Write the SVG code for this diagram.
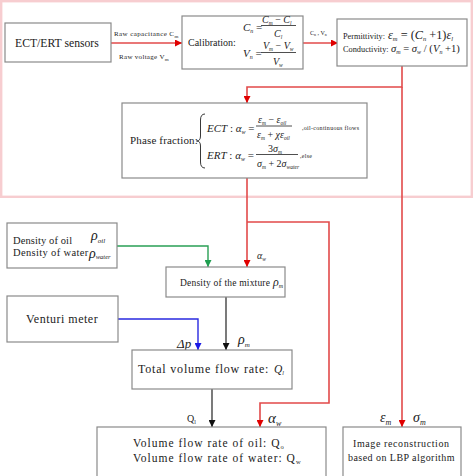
<svg xmlns="http://www.w3.org/2000/svg" width="474" height="476" viewBox="0 0 474 476">
<defs>
<style>
.box{fill:#fff;stroke:#8a8a8a;stroke-width:1.2}
.s{font-family:"Liberation Serif",serif;fill:#222;font-style:normal}
.m{font-family:"Liberation Serif",serif;font-style:italic;fill:#222}
.red{stroke:#e24a4a;stroke-width:1.6;fill:none}
.blk{stroke:#222;stroke-width:1.2;fill:none}
.blu{stroke:#2a2ae0;stroke-width:1.4;fill:none}
.grn{stroke:#2aa055;stroke-width:1.4;fill:none}
.bar{stroke:#222;stroke-width:0.8}
</style>
<marker id="ar" viewBox="0 0 10 10" refX="10" refY="5" markerWidth="7" markerHeight="7" markerUnits="userSpaceOnUse" orient="auto"><path d="M0,0 L10,5 L0,10 z" fill="#e00000"/></marker>
<marker id="ab" viewBox="0 0 10 10" refX="10" refY="5" markerWidth="7" markerHeight="7" markerUnits="userSpaceOnUse" orient="auto"><path d="M0,0 L10,5 L0,10 z" fill="#111"/></marker>
<marker id="au" viewBox="0 0 10 10" refX="10" refY="5" markerWidth="7" markerHeight="7" markerUnits="userSpaceOnUse" orient="auto"><path d="M0,0 L10,5 L0,10 z" fill="#1a1ae6"/></marker>
<marker id="ag" viewBox="0 0 10 10" refX="10" refY="5" markerWidth="7" markerHeight="7" markerUnits="userSpaceOnUse" orient="auto"><path d="M0,0 L10,5 L0,10 z" fill="#1f9e50"/></marker>
</defs>
<rect width="474" height="476" fill="#fff"/>
<rect x="1.2" y="1.2" width="470.6" height="195.6" fill="none" stroke="#f7cdd0" stroke-width="2.4"/>

<g id="connectors">
<path class="red" d="M111,43 H182" marker-end="url(#ar)"/>
<path class="red" d="M303,43 H338" marker-end="url(#ar)"/>
<path class="red" d="M402,66 V87 H247 V103" marker-end="url(#ar)"/>
<path class="red" d="M402,87 V427" marker-end="url(#ar)"/>
<path class="red" d="M247,178 V267" marker-end="url(#ar)"/>
<path class="red" d="M247,222 H329 V403 H260 V427" marker-end="url(#ar)"/>
<path class="grn" d="M117,246 H208 V267" marker-end="url(#ag)"/>
<path class="blu" d="M118,319 H198 V350" marker-end="url(#au)"/>
<path class="blk" d="M226,297 V350" marker-end="url(#ab)"/>
<path class="blk" d="M212,389 V427" marker-end="url(#ab)"/>
</g>

<g id="labels">
<text class="s" x="114" y="36" font-size="7" letter-spacing="0.4">Raw capacitance C<tspan font-size="5" dy="1.5">m</tspan></text>
<text class="s" x="119" y="59" font-size="7" letter-spacing="0.3">Raw voltage V<tspan font-size="5" dy="1.5">m</tspan></text>
<text class="s" x="310" y="35" font-size="6">C<tspan font-size="4" dy="1">n</tspan><tspan dy="-1"> , V</tspan><tspan font-size="4" dy="1">n</tspan></text>
<text class="m" x="257" y="259" font-size="10">α<tspan font-size="5.5" dy="2">w</tspan></text>
<text class="m" x="177" y="348" font-size="13">Δp</text>
<text class="m" x="238" y="344" font-size="14">ρ<tspan font-size="7" dy="3">m</tspan></text>
<text class="s" x="187" y="422" font-size="10">Q<tspan font-size="6" dy="2">l</tspan></text>
<text class="m" x="268" y="423" font-size="15">α<tspan font-size="8" dy="3">w</tspan></text>
<text class="m" x="380" y="422" font-size="14">ε<tspan font-size="8" dy="3">m</tspan></text>
<text class="m" x="413" y="422" font-size="14">σ<tspan font-size="8" dy="3">m</tspan></text>
</g>

<g id="sensors">
<rect class="box" x="5" y="23" width="106" height="39"/>
<text class="s" x="15" y="47" font-size="11.7">ECT/ERT sensors</text>
</g>

<g id="calibration">
<rect class="box" x="182" y="16" width="121" height="53"/>
<line class="bar" x1="261" y1="25.5" x2="296" y2="25.5"/>
<line class="bar" x1="261" y1="52.5" x2="296" y2="52.5"/>
<text class="s" x="188" y="46" font-size="10">Calibration:</text>
<text class="m" x="243" y="31" font-size="11">C<tspan font-size="6" dy="2">n</tspan><tspan dy="-2" font-style="normal"> =</tspan></text>
<text class="m" x="262" y="22.5" font-size="10">C<tspan font-size="5.5" dy="2">m</tspan><tspan dy="-2" font-style="normal"> − </tspan>C<tspan font-size="5.5" dy="2">l</tspan></text>
<text class="m" x="274" y="36.5" font-size="10">C<tspan font-size="5.5" dy="2">l</tspan></text>
<text class="m" x="243" y="57" font-size="11">V<tspan font-size="6" dy="2">n</tspan><tspan dy="-2" font-style="normal"> =</tspan></text>
<text class="m" x="263" y="48.5" font-size="10">V<tspan font-size="5.5" dy="2">m</tspan><tspan dy="-2" font-style="normal"> − </tspan>V<tspan font-size="5.5" dy="2">w</tspan></text>
<text class="m" x="273" y="64.5" font-size="10">V<tspan font-size="5.5" dy="2">w</tspan></text>
</g>

<g id="permittivity">
<rect class="box" x="337" y="19" width="130" height="47"/>
<text class="s" x="343" y="39" font-size="8.3">Permittivity:</text>
<text class="m" x="388" y="39" font-size="12.3">ε<tspan font-size="6.5" dy="2">m</tspan><tspan dy="-2" font-style="normal"> = (</tspan>C<tspan font-size="6.5" dy="2">n</tspan><tspan dy="-2" font-style="normal"> +1)</tspan>ε<tspan font-size="6.5" dy="2">l</tspan></text>
<text class="s" x="343" y="52" font-size="8.3">Conductivity:</text>
<text class="m" x="391" y="52" font-size="10.6">σ<tspan font-size="6" dy="2">m</tspan><tspan dy="-2" font-style="normal"> = </tspan>σ<tspan font-size="6" dy="2">w</tspan><tspan dy="-2" font-style="normal"> / (</tspan>V<tspan font-size="6" dy="2">n</tspan><tspan dy="-2" font-style="normal"> +1)</tspan></text>
</g>

<g id="phase">
<rect class="box" x="122" y="103" width="245" height="75"/>
<path d="M205,114 Q200.5,114 200.5,120 L200.5,136 Q200.5,141 196.5,141 Q200.5,141 200.5,146 L200.5,162 Q200.5,168 205,168" fill="none" stroke="#222" stroke-width="0.9"/>
<line class="bar" x1="256" y1="126" x2="292" y2="126"/>
<line class="bar" x1="256" y1="154.5" x2="298" y2="154.5"/>
<text class="s" x="130" y="144" font-size="11" letter-spacing="0.15">Phase fraction:</text>
<text class="m" x="207" y="132" font-size="11">ECT<tspan font-style="normal"> : </tspan>α<tspan font-size="6" dy="2">w</tspan><tspan dy="-2" font-style="normal"> =</tspan></text>
<text class="m" x="258" y="123" font-size="10">ε<tspan font-size="5.5" dy="2">m</tspan><tspan dy="-2" font-style="normal"> − </tspan>ε<tspan font-size="5.5" dy="2">oil</tspan></text>
<text class="m" x="257" y="137.5" font-size="10">ε<tspan font-size="5.5" dy="2">m</tspan><tspan dy="-2" font-style="normal"> + </tspan>χε<tspan font-size="5.5" dy="2">oil</tspan></text>
<text class="s" x="302" y="130" font-size="6" letter-spacing="0.3">,oil-continuous flows</text>
<text class="m" x="207" y="159" font-size="11">ERT<tspan font-style="normal"> : </tspan>α<tspan font-size="6" dy="2">w</tspan><tspan dy="-2" font-style="normal"> =</tspan></text>
<text class="m" x="268" y="152" font-size="10"><tspan font-style="normal">3</tspan>σ<tspan font-size="5.5" dy="2">m</tspan></text>
<text class="m" x="257" y="167" font-size="10">σ<tspan font-size="5.5" dy="2">m</tspan><tspan dy="-2" font-style="normal"> + 2</tspan>σ<tspan font-size="5.5" dy="2">water</tspan></text>
<text class="s" x="300" y="158" font-size="6" letter-spacing="0.3">,else</text>
</g>

<g id="densities">
<rect class="box" x="7" y="223" width="110" height="45"/>
<text class="s" x="13" y="244" font-size="10.5" letter-spacing="0.1">Density of oil</text>
<text class="m" x="91" y="240" font-size="14">ρ<tspan font-size="7" dy="2.5">oil</tspan></text>
<text class="s" x="13" y="256" font-size="10.5" letter-spacing="0.35">Density of water</text>
<text class="m" x="89" y="257.5" font-size="14">ρ<tspan font-size="6.5" dy="1.5">water</tspan></text>
</g>

<g id="mixture">
<rect class="box" x="166" y="267" width="119" height="30"/>
<text class="s" x="180" y="286" font-size="9.5" letter-spacing="0.2">Density of the mixture</text>
<text class="m" x="273" y="286" font-size="12">ρ<tspan font-size="6" dy="2">m</tspan></text>
</g>

<g id="venturi">
<rect class="box" x="7" y="296" width="111" height="46"/>
<text class="s" x="26" y="323" font-size="12" letter-spacing="0.5">Venturi meter</text>
</g>

<g id="total">
<rect class="box" x="132" y="350" width="160" height="39"/>
<text class="s" x="138" y="373" font-size="12" letter-spacing="0.8">Total volume flow rate:</text>
<text class="m" x="274" y="373" font-size="11.5">Q<tspan font-size="6" dy="2">l</tspan></text>
</g>

<g id="volume">
<rect class="box" x="97" y="427" width="229" height="52"/>
<text class="s" x="133" y="447" font-size="11.5" letter-spacing="1">Volume flow rate of oil: Q<tspan font-size="6.5" dy="2" letter-spacing="0">o</tspan></text>
<text class="s" x="133" y="462" font-size="11.5" letter-spacing="1">Volume flow rate of water: Q<tspan font-size="6.5" dy="2" letter-spacing="0">w</tspan></text>
</g>

<g id="image">
<rect class="box" x="343" y="427" width="118" height="52"/>
<text class="s" x="353" y="447" font-size="10" letter-spacing="0.6">Image reconstruction</text>
<text class="s" x="348" y="461" font-size="10" letter-spacing="0.45">based on LBP algorithm</text>
</g>
</svg>
